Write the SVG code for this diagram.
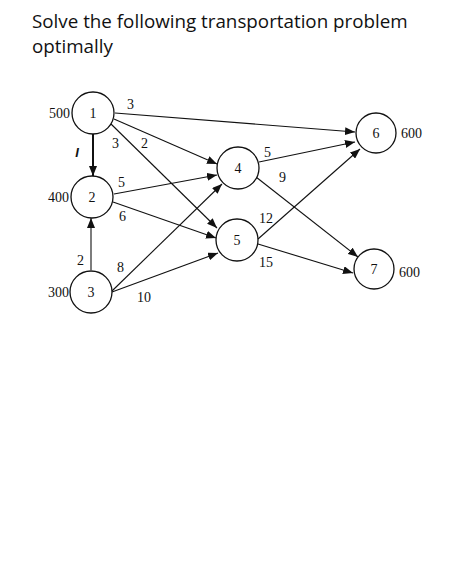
<svg xmlns="http://www.w3.org/2000/svg" width="474" height="581" viewBox="0 0 474 581">
<style>
.title{font-family:"Open Sans","Liberation Sans",sans-serif;font-size:18.8px;fill:#111}
.n circle{fill:#fff;stroke:#111;stroke-width:1.3}
.n text,.lbl{font-family:"Liberation Serif",serif;font-size:14px;fill:#111}
.n text{text-anchor:middle}
.e line{stroke:#111;stroke-width:1.1;marker-end:url(#ah)}
</style>
<defs>
<marker id="ah" viewBox="0 0 10 8" refX="10" refY="4" markerWidth="10" markerHeight="8" markerUnits="userSpaceOnUse" orient="auto">
<path d="M0,0 L10,4 L0,8 Z" fill="#111"/>
</marker>
</defs>
<rect width="474" height="581" fill="#fff"/>
<text class="title" x="32" y="28">Solve the following transportation problem</text>
<text class="title" x="32" y="53">optimally</text>
<g id="connectors" class="e">
<line x1="115" y1="113" x2="355" y2="132"/>
<line x1="114" y1="119" x2="217" y2="164"/>
<line x1="111" y1="124" x2="217" y2="228"/>
<line x1="93" y1="134" x2="93" y2="176" style="stroke-width:2"/>
<line x1="114" y1="194" x2="217" y2="175"/>
<line x1="113" y1="202" x2="216" y2="238"/>
<line x1="91" y1="270" x2="91" y2="218"/>
<line x1="112" y1="291" x2="222" y2="184"/>
<line x1="112" y1="292" x2="218" y2="253"/>
<line x1="259" y1="162" x2="355" y2="142"/>
<line x1="256" y1="177" x2="358" y2="257"/>
<line x1="258" y1="239" x2="360" y2="149"/>
<line x1="258" y1="244" x2="353" y2="273"/>
</g>
<g id="node1" class="n"><circle cx="93" cy="113" r="21"/><text x="93" y="118">1</text></g>
<g id="node2" class="n"><circle cx="92" cy="197" r="21"/><text x="92" y="202">2</text></g>
<g id="node3" class="n"><circle cx="91" cy="292" r="21"/><text x="91" y="297">3</text></g>
<g id="node4" class="n"><circle cx="238" cy="168" r="21"/><text x="238" y="173">4</text></g>
<g id="node5" class="n"><circle cx="237" cy="240" r="21"/><text x="237" y="245">5</text></g>
<g id="node6" class="n"><circle cx="376" cy="133" r="20"/><text x="376" y="138">6</text></g>
<g id="node7" class="n"><circle cx="374" cy="269" r="20"/><text x="374" y="274">7</text></g>
<g id="labels" class="lbl">
<text x="70" y="118" text-anchor="end">500</text>
<text x="69" y="202" text-anchor="end">400</text>
<text x="69" y="297" text-anchor="end">300</text>
<text x="401" y="138">600</text>
<text x="399" y="277">600</text>
<text x="127" y="109">3</text>
<text x="112" y="148">3</text>
<text x="141" y="148">2</text>
<text x="77" y="157" text-anchor="middle" style="font-family:'Liberation Sans',sans-serif;font-weight:bold;font-style:italic;font-size:13px">I</text>
<text x="118" y="187">5</text>
<text x="119" y="221">6</text>
<text x="77" y="265">2</text>
<text x="117" y="272">8</text>
<text x="137" y="302">10</text>
<text x="264" y="157">5</text>
<text x="279" y="182">9</text>
<text x="259" y="223">12</text>
<text x="259" y="267">15</text>
</g>
</svg>
